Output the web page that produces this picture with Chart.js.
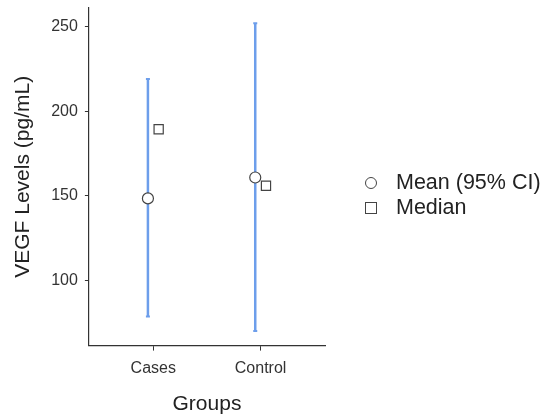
<!DOCTYPE html>
<html>
<head>
<meta charset="utf-8">
<script src="https://cdn.jsdelivr.net/npm/chart.js@4/dist/chart.umd.min.js"></script>
<style>
  html, body { margin: 0; padding: 0; background: #fff; }
  #wrap { position: relative; width: 550px; height: 419px; }
  #legend { position: absolute; left: 362px; top: 170px; font-family: "Liberation Sans", Arial, sans-serif; font-size: 21.5px; color: #222; }
  .item { display: flex; align-items: center; height: 25px; }
  .mk { width: 10px; height: 10px; border: 1.2px solid #444; margin-right: 19px; margin-left: 3px; background: #fff; }
  .circ { border-radius: 50%; }
</style>
</head>
<body>
<div id="wrap">
  <canvas id="grafica" width="550" height="419"></canvas>
  <div id="legend">
    <div class="item"><span class="mk circ"></span>Mean (95% CI)</div>
    <div class="item"><span class="mk"></span>Median</div>
  </div>
</div>
<script>
var categorias = ['Cases', 'Control'];
var medias = [148.4, 160.8];
var icInferior = [78.4, 69.8];
var icSuperior = [219.2, 252.2];
var medianas = [189.4, 155.9];
var ticksY = [100, 150, 200, 250];

var desplaza = 0.05;
var azul = '#6d9eeb';
var fuente = '"Liberation Sans", Arial, sans-serif';

var datasets = [];
for (var i = 0; i < categorias.length; i++) {
    datasets.push({
        type: 'line',
        data: [{x: i + 1 - desplaza, y: icInferior[i]}, {x: i + 1 - desplaza, y: icSuperior[i]}],
        borderColor: azul,
        borderWidth: 2.5,
        pointStyle: 'line',
        pointRadius: 2,
        pointBorderColor: azul,
        pointBorderWidth: 2,
        order: 3
    });
}
datasets.push({
    label: 'Mean (95% CI)',
    data: medias.map(function (v, i) { return {x: i + 1 - desplaza, y: v}; }),
    pointStyle: 'circle',
    pointRadius: 5.5,
    backgroundColor: '#fff',
    borderColor: '#444',
    borderWidth: 1.2,
    order: 1
});
datasets.push({
    label: 'Median',
    data: medianas.map(function (v, i) { return {x: i + 1 + desplaza, y: v}; }),
    pointStyle: 'rect',
    pointRadius: 6.5,
    backgroundColor: '#fff',
    borderColor: '#444',
    borderWidth: 1.2,
    order: 2
});

var mychart = new Chart(document.getElementById('grafica'), {
    type: 'scatter',
    data: { datasets: datasets },
    options: {
        responsive: false,
        animation: false,
        layout: { padding: { top: 8, right: 225, bottom: 0, left: 7 } },
        plugins: { legend: { display: false }, tooltip: { enabled: false } },
        scales: {
            x: {
                type: 'linear',
                min: 0.4,
                max: 2.6,
                afterBuildTicks: function (axis) {
                    axis.ticks = categorias.map(function (c, i) { return {value: i + 1}; });
                },
                ticks: {
                    callback: function (v) { return categorias[v - 1]; },
                    color: '#333',
                    font: { family: fuente, size: 16 },
                    padding: 8
                },
                grid: { drawOnChartArea: false, tickLength: 5, tickColor: '#333' },
                border: { color: '#333', width: 1.2 },
                title: { display: true, text: 'Groups', color: '#222', font: { family: fuente, size: 21 }, padding: { top: 6, bottom: 2 } }
            },
            y: {
                min: 61.2,
                max: 261.2,
                afterBuildTicks: function (axis) {
                    axis.ticks = ticksY.map(function (v) { return {value: v}; });
                },
                afterFit: function (axis) {
                    axis.paddingTop = 0;
                    axis.paddingBottom = 0;
                },
                ticks: {
                    color: '#333',
                    font: { family: fuente, size: 16 },
                    padding: 7
                },
                grid: { drawOnChartArea: false, tickLength: 4, tickColor: '#333' },
                border: { color: '#333', width: 1.2 },
                title: { display: true, text: 'VEGF Levels (pg/mL)', color: '#222', font: { family: fuente, size: 21 }, padding: { bottom: 8 } }
            }
        }
    }
});
</script>
</body>
</html>
